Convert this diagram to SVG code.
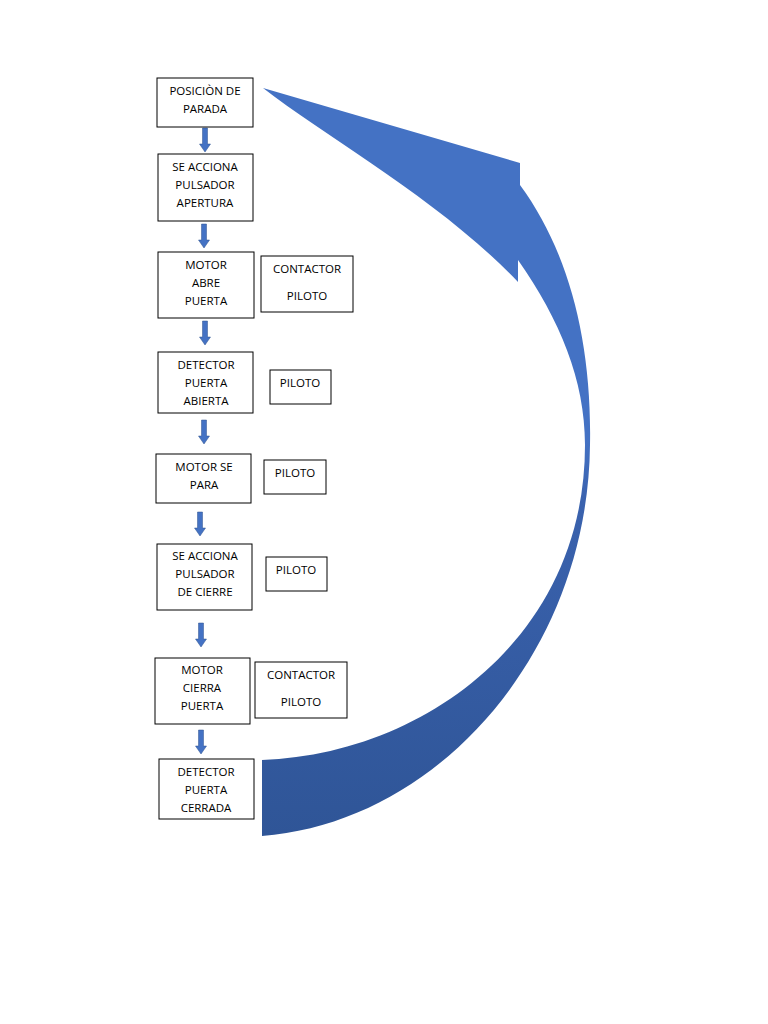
<svg xmlns="http://www.w3.org/2000/svg" width="768" height="1024" viewBox="0 0 768 1024">
<style>
.b{fill:#fff;stroke:#000;stroke-width:1}
.t{font-family:"Open Sans",sans-serif;font-size:11.5px;fill:#000;text-anchor:middle}
.a{fill:#4472C4;stroke:#2F528F;stroke-width:0.5}
</style>
<defs>
<linearGradient id="g" x1="0" y1="0" x2="0" y2="1" gradientUnits="objectBoundingBox">
<stop offset="0" stop-color="#4472C4"/><stop offset="0.47" stop-color="#4472C4"/><stop offset="0.55" stop-color="#3A62AE"/><stop offset="1" stop-color="#2F5597"/>
</linearGradient>
<path id="sa" d="M-2.5,0 H2.5 V16 H5.5 L0,24 L-5.5,16 H-2.5 Z"/>
</defs>
<rect width="768" height="1024" fill="#fff"/>
<g id="connectors">
<path id="big" fill="url(#g)" d="M263,88 L520,163 L520,185 C568,250 592,340 590,445 C588,650 440,822 262,836 L262,760 C420,755 585,640 585,445 C585,380 560,320 518,260 L518,282 C440,200 330,140 263,88 Z"/>
<use href="#sa" x="205" y="128" class="a"/>
<use href="#sa" x="204" y="224" class="a"/>
<use href="#sa" x="205" y="321" class="a"/>
<use href="#sa" x="204" y="420" class="a"/>
<use href="#sa" x="200" y="512" class="a"/>
<use href="#sa" x="201" y="623" class="a"/>
<use href="#sa" x="201" y="730" class="a"/>
</g>
<g id="n1"><rect class="b" x="157" y="78" width="96" height="49"/><text class="t" x="205" y="95">POSICIÒN DE</text><text class="t" x="205" y="113">PARADA</text></g>
<g id="n2"><rect class="b" x="158" y="154" width="95" height="67"/><text class="t" x="205" y="171">SE ACCIONA</text><text class="t" x="205" y="189">PULSADOR</text><text class="t" x="205" y="207">APERTURA</text></g>
<g id="n3"><rect class="b" x="158" y="252" width="96" height="66"/><text class="t" x="206" y="269">MOTOR</text><text class="t" x="206" y="287">ABRE</text><text class="t" x="206" y="305">PUERTA</text></g>
<g id="s3"><rect class="b" x="261" y="256" width="92" height="56"/><text class="t" x="307" y="273">CONTACTOR</text><text class="t" x="307" y="300">PILOTO</text></g>
<g id="n4"><rect class="b" x="158" y="352" width="95" height="61"/><text class="t" x="206" y="369">DETECTOR</text><text class="t" x="206" y="387">PUERTA</text><text class="t" x="206" y="405">ABIERTA</text></g>
<g id="s4"><rect class="b" x="270" y="370" width="61" height="34"/><text class="t" x="300" y="387">PILOTO</text></g>
<g id="n5"><rect class="b" x="156" y="454" width="95" height="49"/><text class="t" x="204" y="471">MOTOR SE</text><text class="t" x="204" y="489">PARA</text></g>
<g id="s5"><rect class="b" x="264" y="460" width="62" height="34"/><text class="t" x="295" y="477">PILOTO</text></g>
<g id="n6"><rect class="b" x="157" y="544" width="95" height="66"/><text class="t" x="205" y="560">SE ACCIONA</text><text class="t" x="205" y="578">PULSADOR</text><text class="t" x="205" y="596">DE CIERRE</text></g>
<g id="s6"><rect class="b" x="266" y="557" width="61" height="34"/><text class="t" x="296" y="574">PILOTO</text></g>
<g id="n7"><rect class="b" x="155" y="658" width="95" height="66"/><text class="t" x="202" y="674">MOTOR</text><text class="t" x="202" y="692">CIERRA</text><text class="t" x="202" y="710">PUERTA</text></g>
<g id="s7"><rect class="b" x="255" y="662" width="92" height="56"/><text class="t" x="301" y="679">CONTACTOR</text><text class="t" x="301" y="706">PILOTO</text></g>
<g id="n8"><rect class="b" x="159" y="759" width="95" height="60"/><text class="t" x="206" y="776">DETECTOR</text><text class="t" x="206" y="794">PUERTA</text><text class="t" x="206" y="812">CERRADA</text></g>
</svg>
